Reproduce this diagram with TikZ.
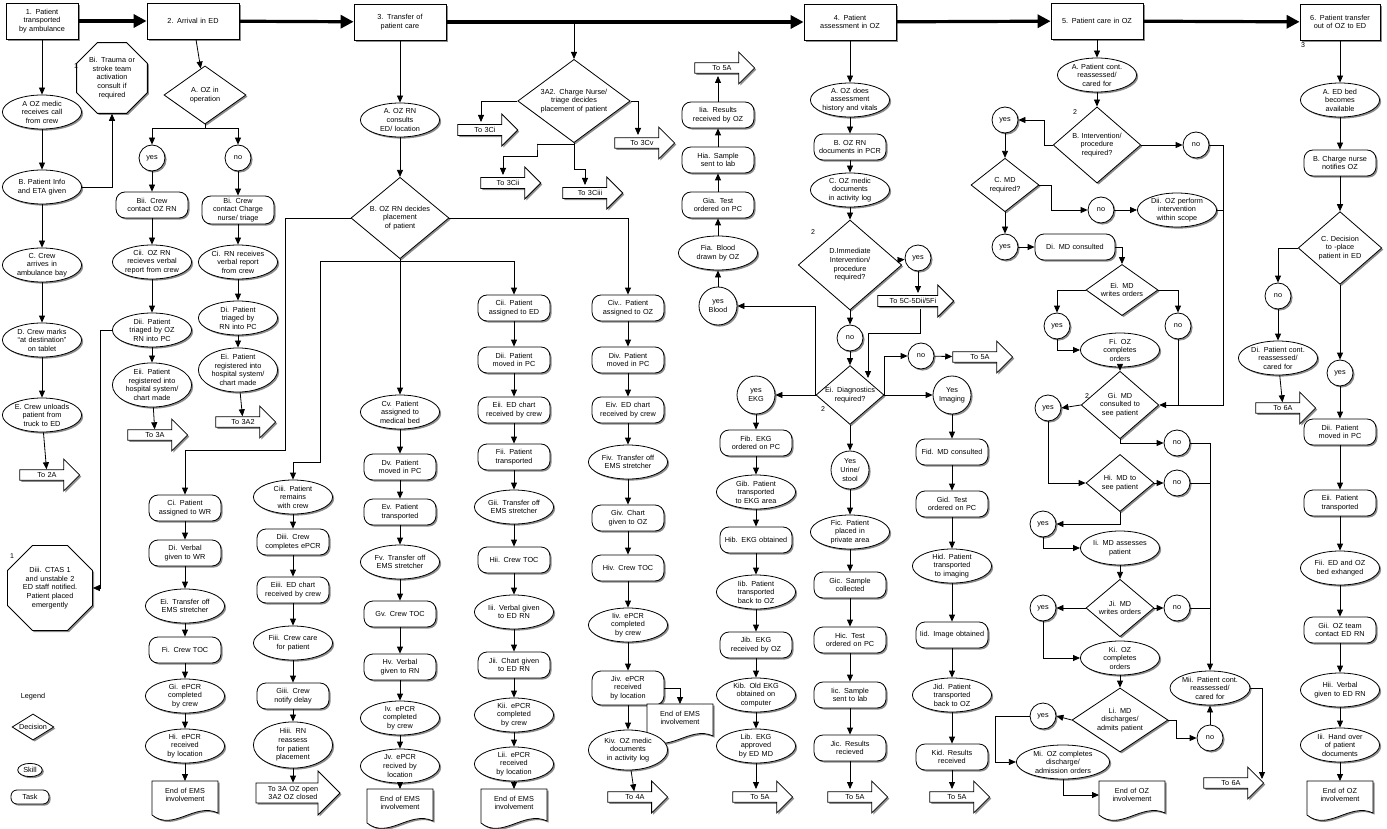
\documentclass[tikz,border=0pt]{standalone}
\usepackage{fontspec}
\setmainfont{Liberation Sans}
\usetikzlibrary{shapes.geometric,shapes.arrows,shadows,calc,arrows.meta}
\begin{document}
\hyphenpenalty=10000 \exhyphenpenalty=10000
\begin{tikzpicture}[x=1pt,y=-1pt,
  font=\fontsize{7.3}{8.6}\selectfont,
  shd/.style={drop shadow={shadow xshift=1.6pt,shadow yshift=-1.6pt,fill=black!45,opacity=1}},
  base/.style={draw,fill=white,line width=0.8pt,shd,align=center},
  hdr/.style={base,rectangle,minimum width=#1,minimum height=36,text width=#1-10},
  hdr/.default=72,
  task/.style={base,rounded corners=9,minimum width=72,minimum height=26,text width=66,inner sep=2},
  skill/.style={base,ellipse,text width=56,inner sep=0,minimum width=70,minimum height=34},
  dec/.style={base,diamond,inner sep=0,text width=#1*0.6,minimum width=#1,aspect=1.15},
  circ/.style={base,circle,minimum size=26,inner sep=0},
  off/.style={base,single arrow,single arrow head extend=8pt,minimum width=32,minimum height=#1,inner sep=1,text width=#1-28},
  off/.default=60,
  oct/.style={base,regular polygon,regular polygon sides=8,minimum size=74,inner sep=0,text width=50},
  arr/.style={-{Triangle[length=7pt,width=6pt]},line width=0.8pt},
  ln/.style={line width=0.8pt},
  big/.style={-{Triangle[length=13pt,width=13pt]},line width=3.2pt},
  lbl/.style={font=\fontsize{7}{8}\selectfont}]
\useasboundingbox (0,0) rectangle (1387,829);
\newcommand\docu[3]{%
  \draw[ln,fill=white,shd] ($(#2)+(-33,-19)$) -- ($(#2)+(33,-19)$) -- ($(#2)+(33,13)$)
     .. controls ($(#2)+(10,2)$) and ($(#2)+(-12,32)$) .. ($(#2)+(-33,15)$) -- cycle;
  \node[inner sep=0,text width=58,align=center] (#1) at ($(#2)+(0,-5)$) {#3};
  \coordinate (#1t) at ($(#2)+(0,-19)$);
  \coordinate (#1l) at ($(#2)+(-33,-5)$);}

% headers
\node[hdr=72] (H1) at (42,21) {1. Patient transported by ambulance};
\node[hdr=92] (H2) at (193,21) {2. Arrival in ED};
\node[hdr=92] (H3) at (400,22) {3. Transfer of patient care};
\node[hdr=92] (H4) at (850,22) {4. Patient assessment in OZ};
\node[hdr=92] (H5) at (1097,21) {5. Patient care in OZ};
\node[hdr=80] (H6) at (1340,22) {6. Patient transfer out of OZ to ED};
\draw[big] (H1) -- (H2); \draw[big] (H2) -- (H3); \draw[big] (H3) -- (H4);
\draw[big] (H4) -- (H5); \draw[big] (H5) -- (H6);

% column 1
\node[skill] (c1A) at (42,112) {A OZ medic receives call from crew};
\node[oct] (c1Bi) at (112,78) {Bi. Trauma or stroke team activation consult if required};
\node[lbl] at (76,66) {1};
\node[skill] (c1B) at (42,187) {B. Patient Info and ETA given};
\node[skill] (c1C) at (42,265) {C. Crew arrives in ambulance bay};
\node[skill] (c1D) at (42,340) {D. Crew marks “at destination” on tablet};
\node[skill] (c1E) at (42,415) {E. Crew unloads patient from truck to ED};
\node[off] (to2A) at (47,475) {To 2A};
\node[oct,minimum size=80,text width=60] (c1Diii) at (50,588) {Diii. CTAS 1 and unstable 2 ED staff notified. Patient placed emergently};
\node[lbl] at (12,556) {1};
\draw[arr] (H1) -- (c1A);
\foreach \a/\b in {c1A/c1B,c1B/c1C,c1C/c1D,c1D/c1E,c1E/to2A} \draw[arr] (\a) -- (\b);
\draw[arr] (c1B.east) -| (c1Bi.south);

% column 2
\node[dec=82] (c2A) at (205,95) {A. OZ in operation};
\node[circ] (c2yes) at (152,158) {yes};
\node[circ] (c2no) at (238,158) {no};
\node[task] (c2Bii) at (152,205) {Bii. Crew contact OZ RN};
\node[task,text width=62] (c2Bi) at (238,210) {Bi. Crew contact Charge nurse/ triage};
\node[skill] (c2Cii) at (152,262) {Cii. OZ RN recieves verbal report from crew};
\node[skill] (c2Ci) at (238,262) {Ci. RN receives verbal report from crew};
\node[skill] (c2Dii) at (152,330) {Dii. Patient triaged by OZ RN into PC};
\node[skill] (c2Di) at (238,318) {Di. Patient triaged by RN into PC};
\node[skill] (c2Eii) at (152,385) {Eii. Patient registered into hospital system/ chart made};
\node[skill] (c2Ei) at (238,370) {Ei. Patient registered into hospital system/ chart made};
\node[off] (to3A) at (155,435) {To 3A};
\node[off] (to3A2) at (243,422) {To 3A2};
\draw[arr] (H2) -- (c2A);
\draw[arr] (c2A.south) -- ++(0,4) -| (c2yes);
\draw[arr] (c2A.south) -- ++(0,4) -| (c2no);
\foreach \a/\b in {c2yes/c2Bii,c2Bii/c2Cii,c2Cii/c2Dii,c2Dii/c2Eii,c2Eii/to3A,
  c2no/c2Bi,c2Bi/c2Ci,c2Ci/c2Di,c2Di/c2Ei,c2Ei/to3A2} \draw[arr] (\a) -- (\b);
\draw[arr] (c2Dii.west) -- (100,330) |- (c1Diii.east);

% column 3
\node[skill] (c3A) at (400,120) {A. OZ RN consults ED/ location};
\node[dec=98,text width=66] (c3B) at (400,218) {B. OZ RN decides placement of patient};
\coordinate (c3bb) at (400,261);
\draw[arr] (H3) -- (c3A); \draw[arr] (c3A) -- (c3B);
% Ci
\node[task] (c3Ci) at (185,508) {Ci. Patient assigned to WR};
\node[task] (c3Di) at (185,553) {Di. Verbal given to WR};
\node[skill] (c3Ei) at (185,606) {Ei. Transfer off EMS stretcher};
\node[task] (c3Fi) at (185,650) {Fi. Crew TOC};
\node[skill] (c3Gi) at (185,696) {Gi. ePCR completed by crew};
\node[skill] (c3Hi) at (185,746) {Hi. ePCR received by location};
\docu{c3endi}{185,800}{End of EMS involvement}
% Ciii
\node[skill] (c3Ciii) at (293,497) {Ciii. Patient remains with crew};
\node[task] (c3Diii) at (293,542) {Diii. Crew completes ePCR};
\node[task] (c3Eiii) at (293,590) {Eiii. ED chart received by crew};
\node[skill] (c3Fiii) at (293,643) {Fiii. Crew care for patient};
\node[task] (c3Giii) at (293,696) {Giii. Crew notify delay};
\node[skill] (c3Hiii) at (293,745) {Hiii. RN reassess for patient placement};
\node[off=84,minimum width=44,single arrow head extend=10pt] (to3Aopen) at (293,793) {To 3A OZ open 3A2 OZ closed};
% Cv
\node[skill] (c3Cv) at (400,412) {Cv. Patient assigned to medical bed};
\node[task] (c3Dv) at (400,467) {Dv. Patient moved in PC};
\node[task] (c3Ev) at (400,512) {Ev. Patient transported};
\node[skill] (c3Fv) at (400,562) {Fv. Transfer off EMS stretcher};
\node[task] (c3Gv) at (400,614) {Gv. Crew TOC};
\node[task] (c3Hv) at (400,667) {Hv. Verbal given to RN};
\node[skill] (c3Iv) at (400,718) {Iv. ePCR completed by crew};
\node[skill] (c3Jv) at (400,766) {Jv. ePCR recived by location};
\docu{c3endv}{400,808}{End of EMS involvement}
% Cii
\node[task] (c3Cii) at (514,308) {Cii. Patient assigned to ED};
\node[task] (c3Dii) at (514,360) {Dii. Patient moved in PC};
\node[task] (c3Eii) at (514,410) {Eii. ED chart received by crew};
\node[task] (c3Fii) at (514,457) {Fii. Patient transported};
\node[skill] (c3Gii) at (514,507) {Gii. Transfer off EMS stretcher};
\node[task] (c3Hii) at (514,560) {Hii. Crew TOC};
\node[skill] (c3Iii) at (514,612) {Iii. Verbal given to ED RN};
\node[task] (c3Jii) at (514,665) {Jii. Chart given to ED RN};
\node[skill] (c3Kii) at (514,715) {Kii. ePCR completed by crew};
\node[skill] (c3Lii) at (514,764) {Lii. ePCR received by location};
\docu{c3endii}{514,808}{End of EMS involvement}
% Civ
\node[task] (c3Civ) at (628,308) {Civ.. Patient assigned to OZ};
\node[task] (c3Div) at (628,360) {Div. Patient moved in PC};
\node[task] (c3Eiv) at (628,410) {Eiv. ED chart received by crew};
\node[skill] (c3Fiv) at (628,462) {Fiv. Transfer off EMS stretcher};
\node[task] (c3Giv) at (628,518) {Giv. Chart given to OZ};
\node[task] (c3Hiv) at (628,568) {Hiv. Crew TOC};
\node[skill] (c3Iiv) at (628,625) {Iiv. ePCR completed by crew};
\node[task,minimum height=34,text width=60] (c3Jiv) at (628,688) {Jiv. ePCR received by location};
\docu{c3endiv}{680,723}{End of EMS involvement}
\node[skill,minimum height=40] (c3Kiv) at (628,750) {Kiv. OZ medic documents in activity log};
\node[off] (to4A) at (635,797) {To 4A};
\draw[arr] (c3B.west) -- (285,218) -- (285,450) -| (c3Ci.north);
\draw[ln] (c3B.south) -- (c3bb);
\draw[arr] (c3bb) -| (c3Cii.north);
\draw[arr] (c3bb) -- (c3Cv.north);
\draw[arr] (c3bb) -- (320,261) -- (320,462) -| (c3Ciii.north);
\draw[arr] (c3B.east) -| (c3Civ.north);
\foreach \a/\b in {c3Ci/c3Di,c3Di/c3Ei,c3Ei/c3Fi,c3Fi/c3Gi,c3Gi/c3Hi,
  c3Ciii/c3Diii,c3Diii/c3Eiii,c3Eiii/c3Fiii,c3Fiii/c3Giii,c3Giii/c3Hiii,c3Hiii/to3Aopen,
  c3Cv/c3Dv,c3Dv/c3Ev,c3Ev/c3Fv,c3Fv/c3Gv,c3Gv/c3Hv,c3Hv/c3Iv,c3Iv/c3Jv,
  c3Cii/c3Dii,c3Dii/c3Eii,c3Eii/c3Fii,c3Fii/c3Gii,c3Gii/c3Hii,c3Hii/c3Iii,c3Iii/c3Jii,c3Jii/c3Kii,c3Kii/c3Lii,
  c3Civ/c3Div,c3Div/c3Eiv,c3Eiv/c3Fiv,c3Fiv/c3Giv,c3Giv/c3Hiv,c3Hiv/c3Iiv,c3Iiv/c3Jiv,c3Jiv/c3Kiv,c3Kiv/to4A}
  \draw[arr] (\a) -- (\b);
\draw[arr] (c3Hi) -- (c3endit);
\draw[arr] (c3Jv) -- (c3endvt);
\draw[arr] (c3Lii) -- (c3endiit);
\draw[arr] (c3Jiv.east) -| (c3endivt);

% 3A2
\node[dec=110,aspect=1.35,text width=80] (c3A2) at (574,101) {3A2. Charge Nurse/ triage decides placement of patient};
\node[off] (to3Ci) at (485,130) {To 3Ci};
\node[off] (to3Cii) at (508,183) {To 3Cii};
\node[off] (to3Ciii) at (590,193) {To 3Ciii};
\node[off] (to3Cv) at (642,143) {To 3Cv};
\coordinate (c3A2top) at (574,22);
\draw[arr] (c3A2top) -- (c3A2.north);
\draw[arr] (c3A2.west) -| ($(to3Ci.center)+(-4,-8)$);
\draw[arr] (c3A2.east) -| ($(to3Cv.center)+(-4,-8)$);
\draw[arr] (c3A2.south) -- ++(0,1) -| (537,144) |- (503,156) -- ($(to3Cii.center)+(-5,-8)$);
\draw[arr] (c3A2.south) -- ++(0,26) -| ($(to3Ciii.center)+(-5,-8)$);

% column 4
\node[skill] (c4A) at (850,100) {A. OZ does assessment history and vitals};
\node[task] (c4B) at (850,147) {B. OZ RN documents in PCR};
\node[skill] (c4C) at (850,190) {C. OZ medic documents in activity log};
\node[dec=88,text width=66] (c4D) at (850,265) {D.Immediate Intervention/ procedure required?};
\node[lbl] at (813,232) {2};
\node[circ] (c4yes) at (918,258) {yes};
\node[off=76] (to5C) at (913,301) {To 5C-5Dii/5Fi};
\node[circ] (c4no) at (850,338) {no};
\node[dec=68,text width=50] (c4Ei) at (850,395) {Ei. Diagnostics required?};
\node[lbl] at (823,409) {2};
\node[circ] (c4noE) at (921,356) {no};
\node[off] (to5Aa) at (980,357) {To 5A};
\node[circ,minimum size=38] (c4blood) at (718,306) {yes\\Blood};
\node[skill] (c4Fia) at (718,253) {Fia. Blood drawn by OZ};
\node[task] (c4Gia) at (718,205) {Gia. Test ordered on PC};
\node[task] (c4Hia) at (718,160) {Hia. Sample sent to lab};
\node[task] (c4Iia) at (718,115) {Iia. Results received by OZ};
\node[off] (to5Ab) at (722,68) {To 5A};
\node[circ,minimum size=38] (c4ekg) at (756,395) {yes\\EKG};
\node[task] (c4Fib) at (756,443) {Fib. EKG ordered on PC};
\node[skill] (c4Gib) at (756,492) {Gib. Patient transported to EKG area};
\node[task] (c4Hib) at (756,540) {Hib. EKG obtained};
\node[skill] (c4Iib) at (756,592) {Iib. Patient transported back to OZ};
\node[task] (c4Jib) at (756,645) {Jib. EKG received by OZ};
\node[skill] (c4Kib) at (756,695) {Kib. Old EKG obtained on computer};
\node[skill] (c4Lib) at (756,746) {Lib. EKG approved by ED MD};
\node[off] (to5Ac) at (760,797) {To 5A};
\node[circ,minimum size=38] (c4uri) at (850,470) {Yes\\Urine/\\stool};
\node[skill] (c4Fic) at (850,532) {Fic. Patient placed in private area};
\node[task] (c4Gic) at (850,585) {Gic. Sample collected};
\node[task] (c4Hic) at (850,640) {Hic. Test ordered on PC};
\node[task] (c4Iic) at (850,695) {Iic. Sample sent to lab};
\node[task] (c4Jic) at (850,748) {Jic. Results recieved};
\node[off] (to5Ad) at (855,797) {To 5A};
\node[circ,minimum size=38] (c4img) at (952,395) {Yes\\Imaging};
\node[task] (c4Fid) at (952,452) {Fid. MD consulted};
\node[task] (c4Gid) at (952,504) {Gid. Test ordered on PC};
\node[skill] (c4Hid) at (952,566) {Hid. Patient transported to imaging};
\node[task] (c4Iid) at (952,635) {Iid. Image obtained};
\node[skill] (c4Jid) at (952,695) {Jid. Patient transported back to OZ};
\node[task] (c4Kid) at (952,757) {Kid. Results received};
\node[off] (to5Ae) at (957,797) {To 5A};
\draw[arr] (H4) -- (c4A);
\foreach \a/\b in {c4A/c4B,c4B/c4C,c4C/c4D,c4D/c4no,c4no/c4Ei,c4D/c4yes,c4Ei/c4img,c4Ei/c4ekg,c4Ei/c4uri,c4noE/to5Aa,
  c4blood/c4Fia,c4Fia/c4Gia,c4Gia/c4Hia,c4Hia/c4Iia,
  c4ekg/c4Fib,c4Fib/c4Gib,c4Gib/c4Hib,c4Hib/c4Iib,c4Iib/c4Jib,c4Jib/c4Kib,c4Kib/c4Lib,
  c4uri/c4Fic,c4Fic/c4Gic,c4Gic/c4Hic,c4Hic/c4Iic,c4Iic/c4Jic,
  c4img/c4Fid,c4Fid/c4Gid,c4Gid/c4Hid,c4Hid/c4Iid,c4Iid/c4Jid,c4Jid/c4Kid}
  \draw[arr] (\a) -- (\b);
\draw[arr] (c4Iia) -- ($(to5Ab.center)+(-4,8)$);
\draw[arr] (c4yes) -- ($(to5C.center)+(5,-8)$);
\draw[arr] ($(to5C.center)+(7,8)$) -- (920,333) -| (868,378);
\draw[arr] (c4Ei.east) |- (c4noE.west);
\draw[arr] (c4Ei.west) |- (c4blood.east);
\draw[arr] (c4Lib) -- ($(to5Ac.center)+(-4,-8)$);
\draw[arr] (c4Jic) -- ($(to5Ad.center)+(-5,-8)$);
\draw[arr] (c4Kid) -- ($(to5Ae.center)+(-5,-8)$);

% column 5
\node[skill] (c5A) at (1097,75) {A. Patient cont. reassessed/ cared for};
\node[dec=84,text width=60] (c5B) at (1097,145) {B. Intervention/ procedure required?};
\node[lbl] at (1075,112) {2};
\node[circ] (c5yesA) at (1005,120) {yes};
\node[circ] (c5noA) at (1196,145) {no};
\node[dec=68,text width=44] (c5C) at (1005,185) {C. MD required?};
\node[circ] (c5noC) at (1101,210) {no};
\node[skill,minimum width=76] (c5Dii) at (1177,210) {Dii. OZ perform intervention within scope};
\node[circ] (c5yesC) at (1005,247) {yes};
\node[task,minimum width=80,text width=76] (c5Di) at (1075,247) {Di. MD consulted};
\node[dec=72,aspect=1.4,text width=52] (c5Ei) at (1122,290) {Ei. MD writes orders};
\node[circ] (c5yesE) at (1057,326) {yes};
\node[circ] (c5noE) at (1178,326) {no};
\node[skill] (c5Fi) at (1120,350) {Fi. OZ completes orders};
\node[dec=68,text width=50] (c5Gi) at (1120,405) {Gi. MD consulted to see patient};
\node[lbl] at (1087,396) {2};
\node[circ] (c5yesG) at (1048,408) {yes};
\node[circ] (c5noG) at (1177,443) {no};
\node[dec=68,text width=48] (c5Hi) at (1120,483) {Hi. MD to see patient};
\node[circ] (c5noH) at (1177,483) {no};
\node[circ] (c5yesH) at (1043,524) {yes};
\node[skill] (c5Ii) at (1120,548) {Ii. MD assesses patient};
\node[dec=68,text width=50] (c5Ji) at (1120,608) {Ji. MD writes orders};
\node[circ] (c5yesJ) at (1043,608) {yes};
\node[circ] (c5noJ) at (1177,608) {no};
\node[skill] (c5Ki) at (1120,658) {Ki. OZ completes orders};
\node[dec=88,aspect=1.5,text width=60] (c5Li) at (1120,720) {Li. MD discharges/ admits patient};
\node[circ] (c5yesL) at (1043,716) {yes};
\node[circ] (c5noL) at (1210,738) {no};
\node[skill,text width=66] (c5Mi) at (1063,762) {Mi. OZ completes discharge/ admission orders};
\docu{c5end}{1132,800}{End of OZ involvement}
\node[skill,minimum width=80] (c5Mii) at (1210,688) {Mii. Patient cont. reassessed/ cared for};
\node[off] (to6Ab) at (1231,783) {To 6A};
\draw[arr] (H5) -- (c5A); \draw[arr] (c5A) -- (c5B);
\draw[arr] (c5B.west) -- ++(-8,0) |- (c5yesA.east);
\draw[arr] (c5B) -- (c5noA);
\draw[arr] (c5noA.east) -- (1223,145) -- (1223,405) -- (c5Gi.east);
\draw[ln] (c5Dii.east) -- (1223,210);
\draw[arr] (c5yesA) -- (c5C);
\draw[arr] (c5C.east) -- ++(12,0) |- (c5noC.west);
\draw[arr] (c5noC) -- (c5Dii);
\draw[arr] (c5C) -- (c5yesC); \draw[arr] (c5yesC) -- (c5Di);
\draw[arr] (c5Di.east) -| (c5Ei.north);
\draw[arr] (c5Ei.west) -| (c5yesE.north);
\draw[arr] (c5Ei.east) -| (c5noE.north);
\draw[arr] (c5yesE.south) |- (c5Fi.west);
\draw[arr] (c5Fi) -- (c5Gi);
\draw[ln] (c5noE.south) -- (1178,405);
\draw[arr] (c5Gi.west) -- (c5yesG.east);
\draw[arr] (c5Gi.south) |- (c5noG.west);
\draw[arr] (c5noG.east) -| (c5Mii.north);
\draw[ln] (c5noH.east) -- (1210,483);
\draw[ln] (c5noJ.east) -- (1210,608);
\draw[arr] (c5yesG.south) |- (c5Hi.west);
\draw[arr] (c5Hi) -- (c5noH);
\draw[arr] (c5Hi.south) |- (c5yesH.east);
\draw[arr] (c5yesH.south) |- (c5Ii.west);
\draw[arr] (c5Ii) -- (c5Ji);
\draw[arr] (c5Ji) -- (c5yesJ); \draw[arr] (c5Ji) -- (c5noJ);
\draw[arr] (c5yesJ.south) |- (c5Ki.west);
\draw[arr] (c5Ki) -- (c5Li);
\draw[arr] (c5Li.west) -- (c5yesL.east);
\draw[arr] (c5Li.east) -- ++(8,0) |- (c5noL.west);
\draw[arr] (c5noL) -- (c5Mii);
\draw[arr] (c5yesL.west) -- (995,716) |- (c5Mi.west);
\draw[arr] (c5Mi.south) |- (c5endl);
\draw[arr] (c5Mii.east) -| ($(to6Ab.center)+(31,-4)$);

% column 6
\node[skill] (c6A) at (1340,100) {A. ED bed becomes available};
\node[lbl] at (1303,45) {3};
\node[task] (c6B) at (1340,163) {B. Charge nurse notifies OZ};
\node[dec=80,text width=56] (c6C) at (1340,248) {C. Decision to -place patient in ED};
\node[circ] (c6no) at (1278,296) {no};
\node[skill,minimum width=76] (c6Di) at (1278,358) {Di. Patient cont. reassessed/ cared for};
\node[off] (to6Aa) at (1283,408) {To 6A};
\node[circ] (c6yes) at (1340,373) {yes};
\node[task] (c6Dii) at (1340,432) {Dii. Patient moved in PC};
\node[task] (c6Eii) at (1340,503) {Eii. Patient transported};
\node[skill] (c6Fii) at (1340,568) {Fii. ED and OZ bed exhanged};
\node[task] (c6Gii) at (1340,630) {Gii. OZ team contact ED RN};
\node[skill] (c6Hii) at (1340,690) {Hii. Verbal given to ED RN};
\node[skill] (c6Iii) at (1340,745) {Iii. Hand over of patient documents};
\docu{c6end}{1340,800}{End of OZ involvement}
\draw[arr] (H6) -- (c6A);
\foreach \a/\b in {c6A/c6B,c6B/c6C,c6no/c6Di,c6Di/to6Aa,c6C/c6yes,c6yes/c6Dii,c6Dii/c6Eii,c6Eii/c6Fii,c6Fii/c6Gii,c6Gii/c6Hii,c6Hii/c6Iii}
  \draw[arr] (\a) -- (\b);
\draw[arr] (c6C.west) -| (c6no.north);
\draw[arr] (c6Iii) -- (c6endt);

% legend
\node (lg) at (33,697) {Legend};
\node[base,diamond,aspect=1.6,inner sep=1] (lgD) at (33,727) {Decision};
\node[base,ellipse,inner sep=2] (lgS) at (30,770) {Skill};
\node[base,rounded corners=6,minimum width=38,minimum height=14,inner sep=1] (lgT) at (30,797) {Task};
\end{tikzpicture}
\end{document}
